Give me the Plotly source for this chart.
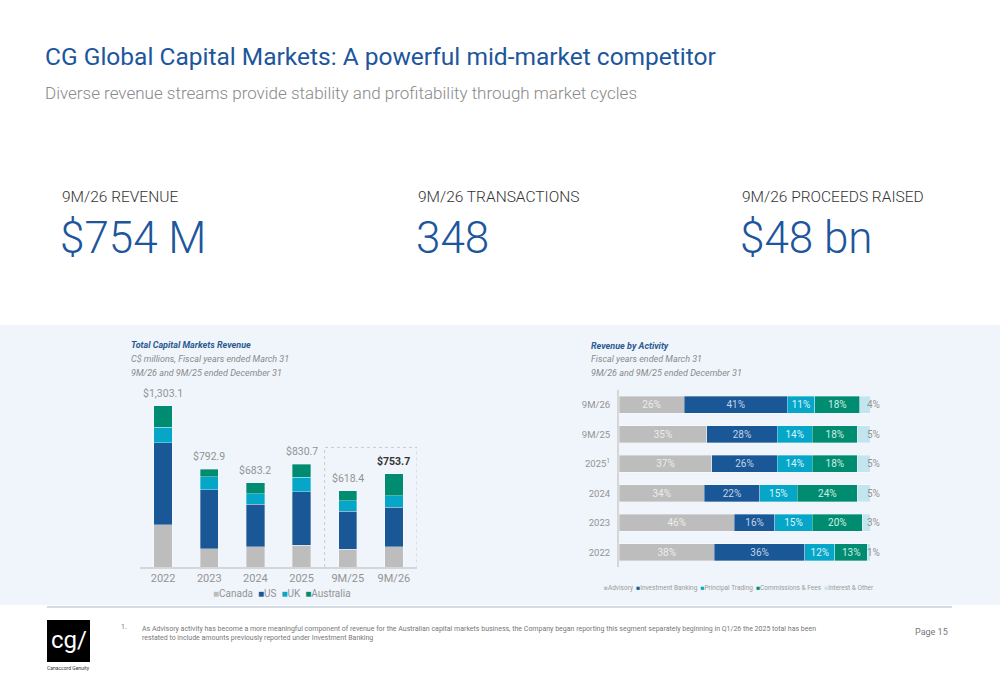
import plotly.graph_objects as go

W, H = 1000, 685

# ---------------- data ----------------
years = ["2022", "2023", "2024", "2025", "9M/25", "9M/26"]
canada = [340, 146, 165, 178, 144, 165]
us = [666, 480, 342, 429, 309, 318]
uk = [125, 103, 87, 121, 81.5, 92]
australia = [172.1, 63.9, 89.2, 102.7, 83.9, 178.7]
totals = [1303.1, 792.9, 683.2, 830.7, 618.4, 753.7]
total_labels = ["$1,303.1", "$792.9", "$683.2", "$830.7", "$618.4", "$753.7"]

periods = ["2022", "2023", "2024", "2025<sup>1</sup>", "9M/25", "9M/26"]
advisory = [38, 46, 34, 37, 35, 26]
inv_banking = [36, 16, 22, 26, 28, 41]
principal = [12, 15, 15, 14, 14, 11]
commissions = [13, 20, 24, 18, 18, 18]
interest = [1, 3, 5, 5, 5, 4]

# ---------------- style ----------------
C_GREY = "#bdbdbd"
C_BLUE = "#1a5796"
C_CYAN = "#06a6c9"
C_GREEN = "#008c70"
C_LIGHT = "#c3e5f0"
TITLE_BLUE = "#1d569c"
FONT = "Roboto"


def fx(px):
    return px / W


def fy(py):
    return 1 - py / H


fig = go.Figure()

# ---------------- left chart ----------------
seg_line = dict(width=0.6, color="rgba(255,255,255,0.55)")
for name, vals, col in [("Canada", canada, C_GREY), ("US", us, C_BLUE),
                        ("UK", uk, C_CYAN), ("Australia", australia, C_GREEN)]:
    fig.add_trace(go.Bar(x=years, y=vals, name=name, marker=dict(color=col, line=seg_line),
                         width=0.4, xaxis="x", yaxis="y", showlegend=False))

for i, (yr, tot, lab) in enumerate(zip(years, totals, total_labels)):
    bold = yr == "9M/26"
    fig.add_annotation(x=i, y=tot, xref="x", yref="y", text=f"<b>{lab}</b>" if bold else lab,
                       showarrow=False, yanchor="bottom", yshift=4,
                       font=dict(size=10.5, color="#333333" if bold else "#939393", family=FONT))

# dashed box around 9M periods
fig.add_shape(type="path", xref="x", yref="y", path="M 3.5,0 L 3.5,968 L 5.5,968 L 5.5,0",
              line=dict(color="#c9c9c9", width=1, dash="dot"))

# ---------------- right chart ----------------
ypos = list(range(len(periods)))
label_cols = ["#ececec", "#c4d3e8", "#dff4f9", "#d2ece5"]
for name, vals, col, tc in [("Advisory", advisory, C_GREY, label_cols[0]),
                            ("Investment Banking", inv_banking, C_BLUE, label_cols[1]),
                            ("Principal Trading", principal, C_CYAN, label_cols[2]),
                            ("Commissions & Fees", commissions, C_GREEN, label_cols[3])]:
    fig.add_trace(go.Bar(y=ypos, x=vals, name=name, orientation="h",
                         marker=dict(color=col, line=seg_line), width=0.58,
                         text=[f"{v}%" for v in vals], textposition="inside",
                         insidetextanchor="middle", constraintext="none",
                         textfont=dict(size=10, color=tc, family=FONT),
                         xaxis="x2", yaxis="y2", showlegend=False))
fig.add_trace(go.Bar(y=ypos, x=interest, name="Interest & Other", orientation="h",
                     marker=dict(color=C_LIGHT, line=seg_line), width=0.58,
                     xaxis="x2", yaxis="y2", showlegend=False))
for yp, v in zip(ypos, interest):
    fig.add_annotation(x=100, y=yp, xref="x2", yref="y2", text=f"{v}%", showarrow=False,
                       xshift=3, font=dict(size=10, color="#939393", family=FONT))

# ---------------- layout ----------------
fig.update_layout(
    width=W, height=H, margin=dict(l=0, r=0, t=0, b=0),
    paper_bgcolor="white", plot_bgcolor="rgba(0,0,0,0)",
    barmode="stack", font=dict(family=FONT, color="#939393"),
    xaxis=dict(domain=[fx(140), fx(417)], type="category", range=[-0.5, 5.5],
               showline=True, linecolor="#d6d6d6", linewidth=1.5, showgrid=False,
               ticks="", tickfont=dict(size=11, color="#939393"), fixedrange=True),
    yaxis=dict(domain=[fy(567), fy(394)], range=[0, 1400], visible=False, fixedrange=True),
    xaxis2=dict(domain=[fx(619), fx(870)], range=[0, 100], visible=False, fixedrange=True,
                anchor="y2"),
    yaxis2=dict(domain=[fy(567), fy(390)], range=[-0.5, 5.5], tickvals=ypos, ticktext=periods,
                showline=True, linecolor="#d6d6d6", linewidth=2, showgrid=False, zeroline=False,
                ticks="", ticklabelstandoff=5, tickfont=dict(size=9.5, color="#939393"),
                anchor="x2", fixedrange=True),
)

# background panel and separator
fig.add_shape(type="rect", xref="paper", yref="paper", x0=0, x1=1, y0=fy(605), y1=fy(325),
              fillcolor="#f0f5fb", line=dict(width=0), layer="below")
fig.add_shape(type="line", xref="paper", yref="paper", x0=fx(47), x1=fx(952), y0=fy(607), y1=fy(607),
              line=dict(color="#a8b7cb", width=1))


def txt(x, y, text, size, color, xanchor="left", yanchor="middle", family=FONT, weight=None):
    f = dict(size=size, color=color, family=family)
    if weight:
        f["weight"] = weight
    fig.add_annotation(x=fx(x), y=fy(y), xref="paper", yref="paper", text=text, showarrow=False,
                       xanchor=xanchor, yanchor=yanchor, align="left", font=f)


# header
txt(43, 57, "CG Global Capital Markets: A powerful mid-market competitor", 24.5, TITLE_BLUE)
txt(43, 93, "Diverse revenue streams provide stability and profitability through market cycles",
    17, "#8a8a8a", weight=300)

# KPIs
for x, head, val in [(62, "9M/26 REVENUE", "$754 M"), (418, "9M/26 TRANSACTIONS", "348"),
                     (742, "9M/26 PROCEEDS RAISED", "$48 bn")]:
    txt(x - 2, 197, head, 15.5, "#333333", weight=300)
    txt(x - 4, 238, val, 44, TITLE_BLUE, weight=300)

# chart titles
txt(129, 345, "<b><i>Total Capital Markets Revenue</i></b>", 9, "#2a5a92")
txt(129, 359, "<i>C$ millions, Fiscal years ended March 31</i>", 9, "#8a8a8a")
txt(129, 373, "<i>9M/26 and 9M/25 ended December 31</i>", 9, "#8a8a8a")
txt(589, 346, "<b><i>Revenue by Activity</i></b>", 9, "#2a5a92")
txt(589, 359, "<i>Fiscal years ended March 31</i>", 9, "#8a8a8a")
txt(589, 373, "<i>9M/26 and 9M/25 ended December 31</i>", 9, "#8a8a8a")


def sq(c):
    return f'<span style="color:{c}">■</span>'


# legends
left_leg = (f"{sq(C_GREY)}Canada  {sq(C_BLUE)}US  {sq(C_CYAN)}UK  {sq(C_GREEN)}Australia")
txt(282, 593, left_leg, 10, "#939393", xanchor="center")
right_leg = (f"{sq(C_GREY)}Advisory  {sq(C_BLUE)}Investment Banking  {sq(C_CYAN)}Principal Trading  "
             f"{sq(C_GREEN)}Commissions &amp; Fees  {sq(C_LIGHT)}Interest &amp; Other")
txt(602, 588, right_leg, 6.5, "#9a9a9a")

# footnote
txt(119, 627, "1.", 7, "#777777")
txt(140, 633, "As Advisory activity has become a more meaningful component of revenue for the Australian capital "
              "markets business, the Company began reporting this segment separately beginning in Q1/26 the 2025 "
              "total has been<br>restated to include amounts previously reported under Investment Banking",
    7, "#777777")
txt(950, 632, "Page 15", 9, "#777777", xanchor="right")

# logo
fig.add_shape(type="rect", xref="paper", yref="paper", x0=fx(47), x1=fx(90), y0=fy(662), y1=fy(620),
              fillcolor="black", line=dict(width=0))
txt(68.5, 640, "cg/", 24, "white", xanchor="center")
txt(68.5, 668, "Canaccord Genuity", 5, "#333333", xanchor="center")

fig.write_html("out.html")
